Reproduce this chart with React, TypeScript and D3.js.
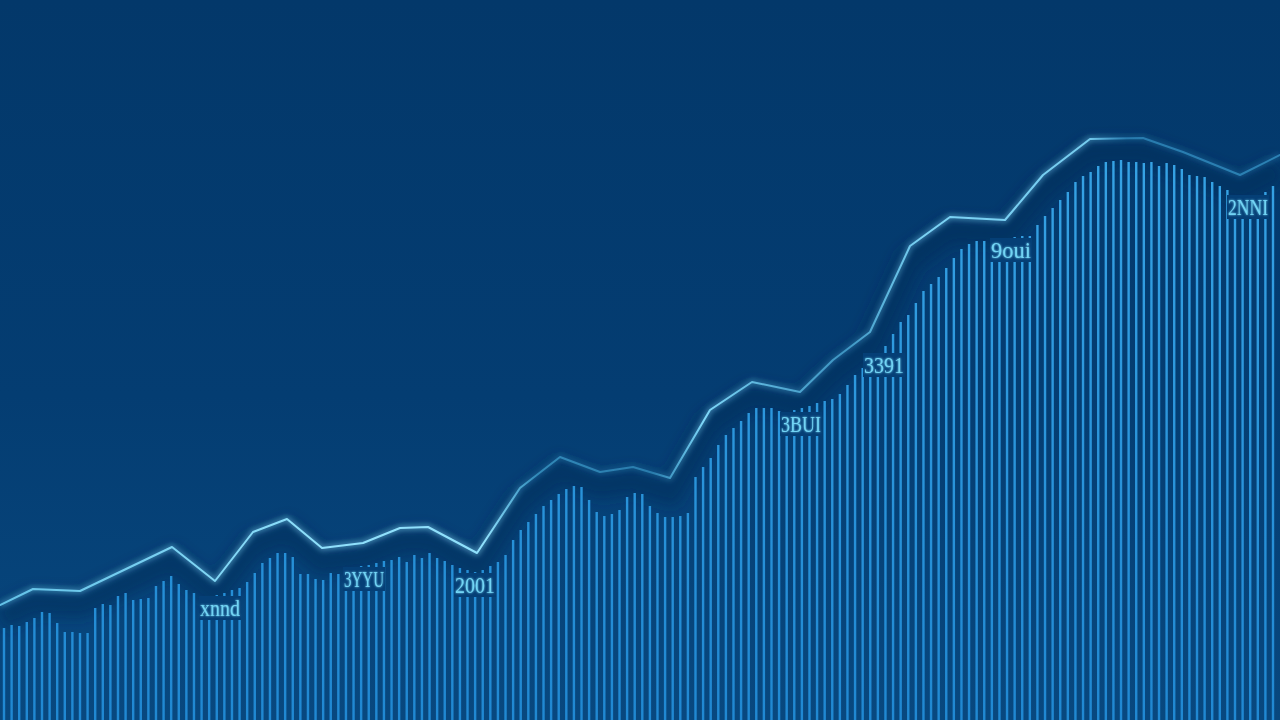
import React from "react";
import * as d3 from "d3";

const W = 1280;
const H = 720;

// Bar heights (value units: 0..720), one bar per index
const barValues: number[] = [
  92, 95, 94, 98, 102, 108, 107, 97, 88, 88,
  87, 87, 112, 116, 115, 124, 127, 120, 121, 122,
  134, 139, 144, 136, 130, 127, 122, 123, 125, 127,
  130, 132, 138, 147, 157, 162, 167, 167, 163, 146,
  146, 141, 140, 147, 146, 150, 152, 154, 155, 157,
  159, 160, 163, 158, 165, 162, 167, 162, 159, 155,
  152, 150, 148, 150, 154, 158, 165, 180, 190, 198,
  206, 214, 220, 226, 231, 234, 233, 220, 208, 204,
  206, 210, 223, 227, 226, 214, 207, 203, 203, 204,
  207, 243, 253, 262, 275, 285, 292, 299, 307, 312,
  312, 312, 309, 308, 310, 312, 314, 317, 319, 321,
  326, 335, 345, 352, 360, 367, 374, 386, 398, 405,
  417, 429, 436, 443, 452, 462, 471, 476, 479, 479,
  480, 482, 482, 483, 484, 484, 495, 504, 512, 520,
  528, 538, 544, 548, 554, 558, 559, 560, 558, 558,
  557, 558, 554, 557, 555, 551, 545, 544, 543, 538,
  534, 530, 525, 523, 523, 524, 528, 534,
];

// Line series: x position (0..1280 units) and value
const lineX: number[] = [0, 33, 80, 172, 215, 253, 287, 322, 363, 400, 428, 477, 520, 560, 600, 633, 670, 710, 752, 800, 833, 870, 910, 950, 1005, 1043, 1090, 1143, 1183, 1240, 1280];
const lineValues: number[] = [115, 131, 129, 173, 139, 188, 201, 172, 177, 192, 193, 167, 232, 263, 248, 253, 242, 310, 338, 328, 360, 388, 474, 503, 500, 545, 581, 582, 568, 545, 565];

// Labels: text, x (same units as lineX), value of baseline
const labelTexts: string[] = ["xnnd", "3YYU", "2001", "3BUI", "3391", "9oui", "2NNI"];
const labelX: number[] = [220, 364, 475, 801, 884, 1011, 1248];
const labelValues: number[] = [104, 133, 127, 288, 347, 462, 505];

export default function App() {
  const x = d3.scaleLinear().domain([0, 1280]).range([0, W]);
  const y = d3.scaleLinear().domain([0, 720]).range([H, 0]);
  const xBar = d3.scaleLinear().domain([0, barValues.length - 1]).range([4, 1273]);

  const pts = lineX.map((v, i) => [v, lineValues[i]] as [number, number]);
  const line = d3
    .line<[number, number]>()
    .x((d) => x(d[0]))
    .y((d) => y(d[1]))
    .curve(d3.curveLinear);
  const linePath = line(pts) || "";

  const lw = 40;
  const lh = 22;

  return (
    <svg
      width={W}
      height={H}
      style={{ position: "fixed", left: 0, top: 0, display: "block" }}
    >
      <defs>
        <linearGradient id="bg" x1="0" y1="0" x2="0" y2="1">
          <stop offset="0%" stopColor="#03386a" />
          <stop offset="55%" stopColor="#043d72" />
          <stop offset="100%" stopColor="#08487f" />
        </linearGradient>
        <linearGradient id="barGrad" gradientUnits="userSpaceOnUse" x1="0" y1="0" x2="0" y2={H}>
          <stop offset="0%" stopColor="#3caaea" />
          <stop offset="100%" stopColor="#2088d2" />
        </linearGradient>
        <linearGradient id="lineGrad" gradientUnits="userSpaceOnUse" x1="0" y1="0" x2={W} y2="0">
          <stop offset="0%" stopColor="#6fd2f6" stopOpacity="0.85" />
          <stop offset="25%" stopColor="#8fe0fc" stopOpacity="1" />
          <stop offset="38%" stopColor="#8fe0fc" stopOpacity="1" />
          <stop offset="42%" stopColor="#4cb8e6" stopOpacity="0.55" />
          <stop offset="51%" stopColor="#4cb8e6" stopOpacity="0.45" />
          <stop offset="55%" stopColor="#7fd8fa" stopOpacity="1" />
          <stop offset="60%" stopColor="#6cccf2" stopOpacity="0.75" />
          <stop offset="66%" stopColor="#5ac2ee" stopOpacity="0.6" />
          <stop offset="72%" stopColor="#7fd8fa" stopOpacity="0.95" />
          <stop offset="85%" stopColor="#7fd8fa" stopOpacity="0.9" />
          <stop offset="88%" stopColor="#45aee2" stopOpacity="0.5" />
          <stop offset="100%" stopColor="#45aee2" stopOpacity="0.55" />
        </linearGradient>
        <filter id="glow" x="-5%" y="-20%" width="110%" height="140%">
          <feGaussianBlur stdDeviation="2.5" />
        </filter>
        <filter id="shadow" x="-5%" y="-20%" width="110%" height="140%">
          <feGaussianBlur stdDeviation="7" />
        </filter>
        <filter id="txtGlow" x="-20%" y="-40%" width="140%" height="180%">
          <feGaussianBlur stdDeviation="1.2" result="b" />
          <feMerge>
            <feMergeNode in="b" />
            <feMergeNode in="SourceGraphic" />
          </feMerge>
        </filter>
      </defs>

      <rect x={0} y={0} width={W} height={H} fill="url(#bg)" />

      {/* dark band under the line */}
      <path
        d={linePath}
        transform="translate(0,14)"
        fill="none"
        stroke="#022b57"
        strokeOpacity={0.5}
        strokeWidth={26}
        filter="url(#shadow)"
      />

      {/* bars */}
      <g>
        {barValues.map((v, i) => (
          <rect
            key={i}
            x={xBar(i) - 1.2}
            y={y(v)}
            width={2.4}
            height={H - y(v)}
            fill="url(#barGrad)"
          />
        ))}
      </g>

      {/* labels */}
      {labelTexts.map((t, i) => (
        <g key={t}>
          <rect
            x={x(labelX[i]) - lw / 2 - 1}
            y={y(labelValues[i]) - lh + 2}
            width={lw + 2}
            height={lh + 2}
            fill="#053f76"
          />
          <text
            x={x(labelX[i])}
            y={y(labelValues[i])}
            textAnchor="middle"
            fontFamily="'Liberation Serif', 'DejaVu Serif', serif"
            fontSize={23}
            textLength={lw}
            lengthAdjust="spacingAndGlyphs"
            fill="#72d4f4"
            filter="url(#txtGlow)"
          >
            {t}
          </text>
        </g>
      ))}

      {/* glowing line */}
      <path
        d={linePath}
        fill="none"
        stroke="url(#lineGrad)"
        strokeWidth={6}
        strokeOpacity={0.4}
        filter="url(#glow)"
        strokeLinejoin="round"
      />
      <path
        d={linePath}
        fill="none"
        stroke="url(#lineGrad)"
        strokeWidth={2}
        strokeLinejoin="round"
        strokeLinecap="round"
      />
    </svg>
  );
}
